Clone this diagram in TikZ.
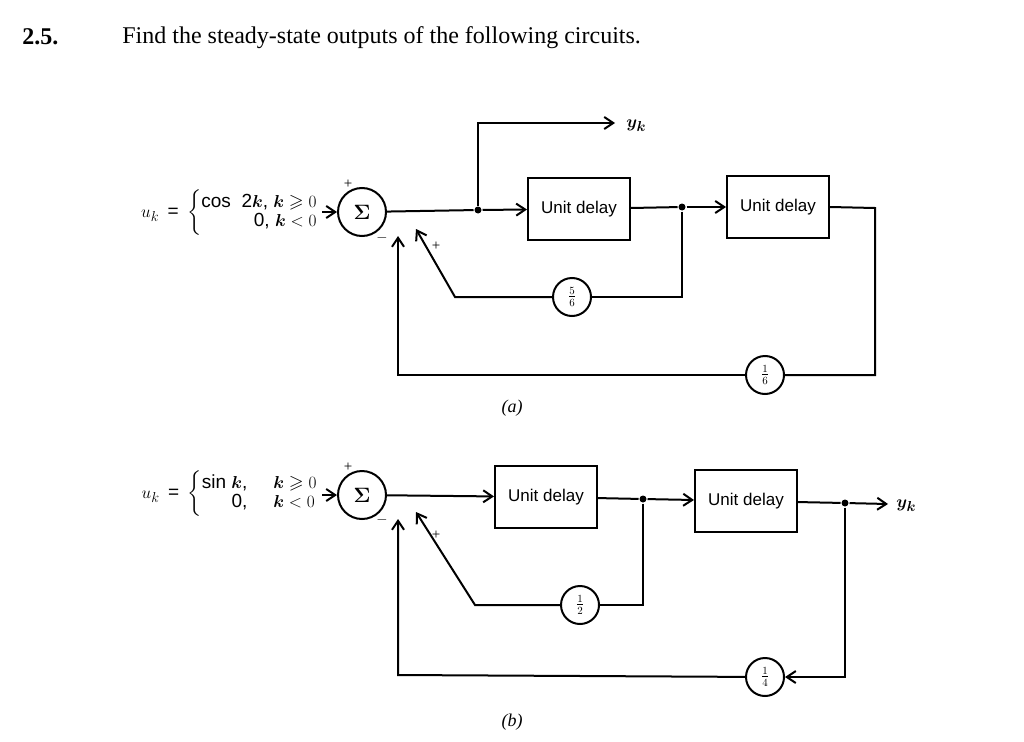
\documentclass[tikz,border=0pt]{standalone}
\usepackage{amsmath,amssymb}
\usepackage{fontspec}
\setmainfont{Liberation Serif}
\newfontfamily\labfont{Liberation Sans}
\usetikzlibrary{arrows.meta}
\newcommand{\fs}[1]{\fontsize{#1}{#1}\selectfont}
\begin{document}
\begin{tikzpicture}[x=1pt,y=-1pt,line width=2pt,
  arr/.style={-{Straight Barb[length=9pt,width=12pt]}},
  sum/.style={circle,draw,minimum size=48pt,inner sep=0pt,font=\fs{20}\bfseries},
  gain/.style={circle,draw,minimum size=38pt,inner sep=0pt,font=\labfont\bfseries\fs{16}},
  box/.style={draw,minimum width=102pt,minimum height=62pt,inner sep=0pt,font=\labfont\fs{17}},
  dot/.style={circle,fill,inner sep=0pt,minimum size=7pt},
  lab/.style={font=\labfont\fs{19}},
  sgn/.style={font=\fs{15}}]
\useasboundingbox (0,0) rectangle (1024,741);
\node[anchor=west,font=\bfseries\fs{24}] (t1) at (18,37) {2.5.};
\node[anchor=west,font=\fs{24}] (t2) at (118,38) {Find the steady-state outputs of the following circuits.};
% (a)
\node[lab,anchor=east] (ua) at (322,213) {$u_k$ \,=\, $\left\{\begin{tabular}{@{}r@{}}cos \ 2$\boldsymbol{k}$, $\boldsymbol{k} \geqslant 0$\\ 0, $\boldsymbol{k} < 0$\end{tabular}\right.$};
\coordinate (ina) at (322,212);
\node[sum] (sa) at (362,212) {$\boldsymbol{\Sigma}$};
\node[dot] (ja) at (478,210) {};
\node[box] (a1) at (579,209) {Unit delay};
\node[dot] (jb) at (682,207) {};
\node[box] (a2) at (778,207) {Unit delay};
\node[gain] (g56) at (572,297) {$\frac{5}{6}$};
\node[gain] (g16) at (765,375) {$\frac{1}{6}$};
\coordinate (ya) at (615,123);
\node[lab,anchor=west] (yla) at (622,126) {$\boldsymbol{y_k}$};
\draw[arr] (ina) -- (sa);
\draw (sa) -- (ja);
\draw[arr] (ja) -- (a1);
\draw (a1) -- (jb);
\draw[arr] (jb) -- (a2);
\draw[arr] (ja) |- (ya);
\draw (a2.east) -- (875,208) |- (g16);
\draw[arr] (g16) -- (398,375) -- (398,236);
\draw (jb) |- (g56);
\draw[arr] (g56) -- (455,297) -- (416,229);
\node[sgn] (pa1) at (348,184) {+};
\node[sgn] (ma) at (382,238) {$-$};
\node[sgn] (pa2) at (436,246) {+};
\node[font=\itshape\fs{18}] (la) at (512,408) {(a)};
% (b)
\node[lab,anchor=east] (ub) at (322,494) {$u_k$ \,=\, $\left\{\begin{tabular}{@{}r@{\hspace{26pt}}l@{}}sin $\boldsymbol{k}$, & $\boldsymbol{k} \geqslant 0$\\ 0, & $\boldsymbol{k} < 0$\end{tabular}\right.$};
\coordinate (inb) at (322,495);
\node[sum] (sb) at (362,495) {$\boldsymbol{\Sigma}$};
\node[box] (b1) at (546,497) {Unit delay};
\node[dot] (jc) at (643,499) {};
\node[box] (b2) at (746,501) {Unit delay};
\node[dot] (jd) at (845,503) {};
\coordinate (yb) at (888,504);
\node[lab,anchor=west] (ylb) at (892,506) {$\boldsymbol{y_k}$};
\node[gain] (g12) at (580,605) {$\frac{1}{2}$};
\node[gain] (g14) at (765,677) {$\frac{1}{4}$};
\draw[arr] (inb) -- (sb);
\draw[arr] (sb) -- (b1);
\draw (b1) -- (jc);
\draw[arr] (jc) -- (b2);
\draw (b2) -- (jd);
\draw[arr] (jd) -- (yb);
\draw[arr] (jd) |- (g14);
\draw[arr] (g14) -- (398,675) -- (398,519);
\draw (jc) |- (g12);
\draw[arr] (g12) -- (475,605) -- (416,512);
\node[sgn] (pb1) at (348,467) {+};
\node[sgn] (mb) at (382,520) {$-$};
\node[sgn] (pb2) at (436,535) {+};
\node[font=\itshape\fs{18}] (lb) at (512,722) {(b)};
\end{tikzpicture}
\end{document}
